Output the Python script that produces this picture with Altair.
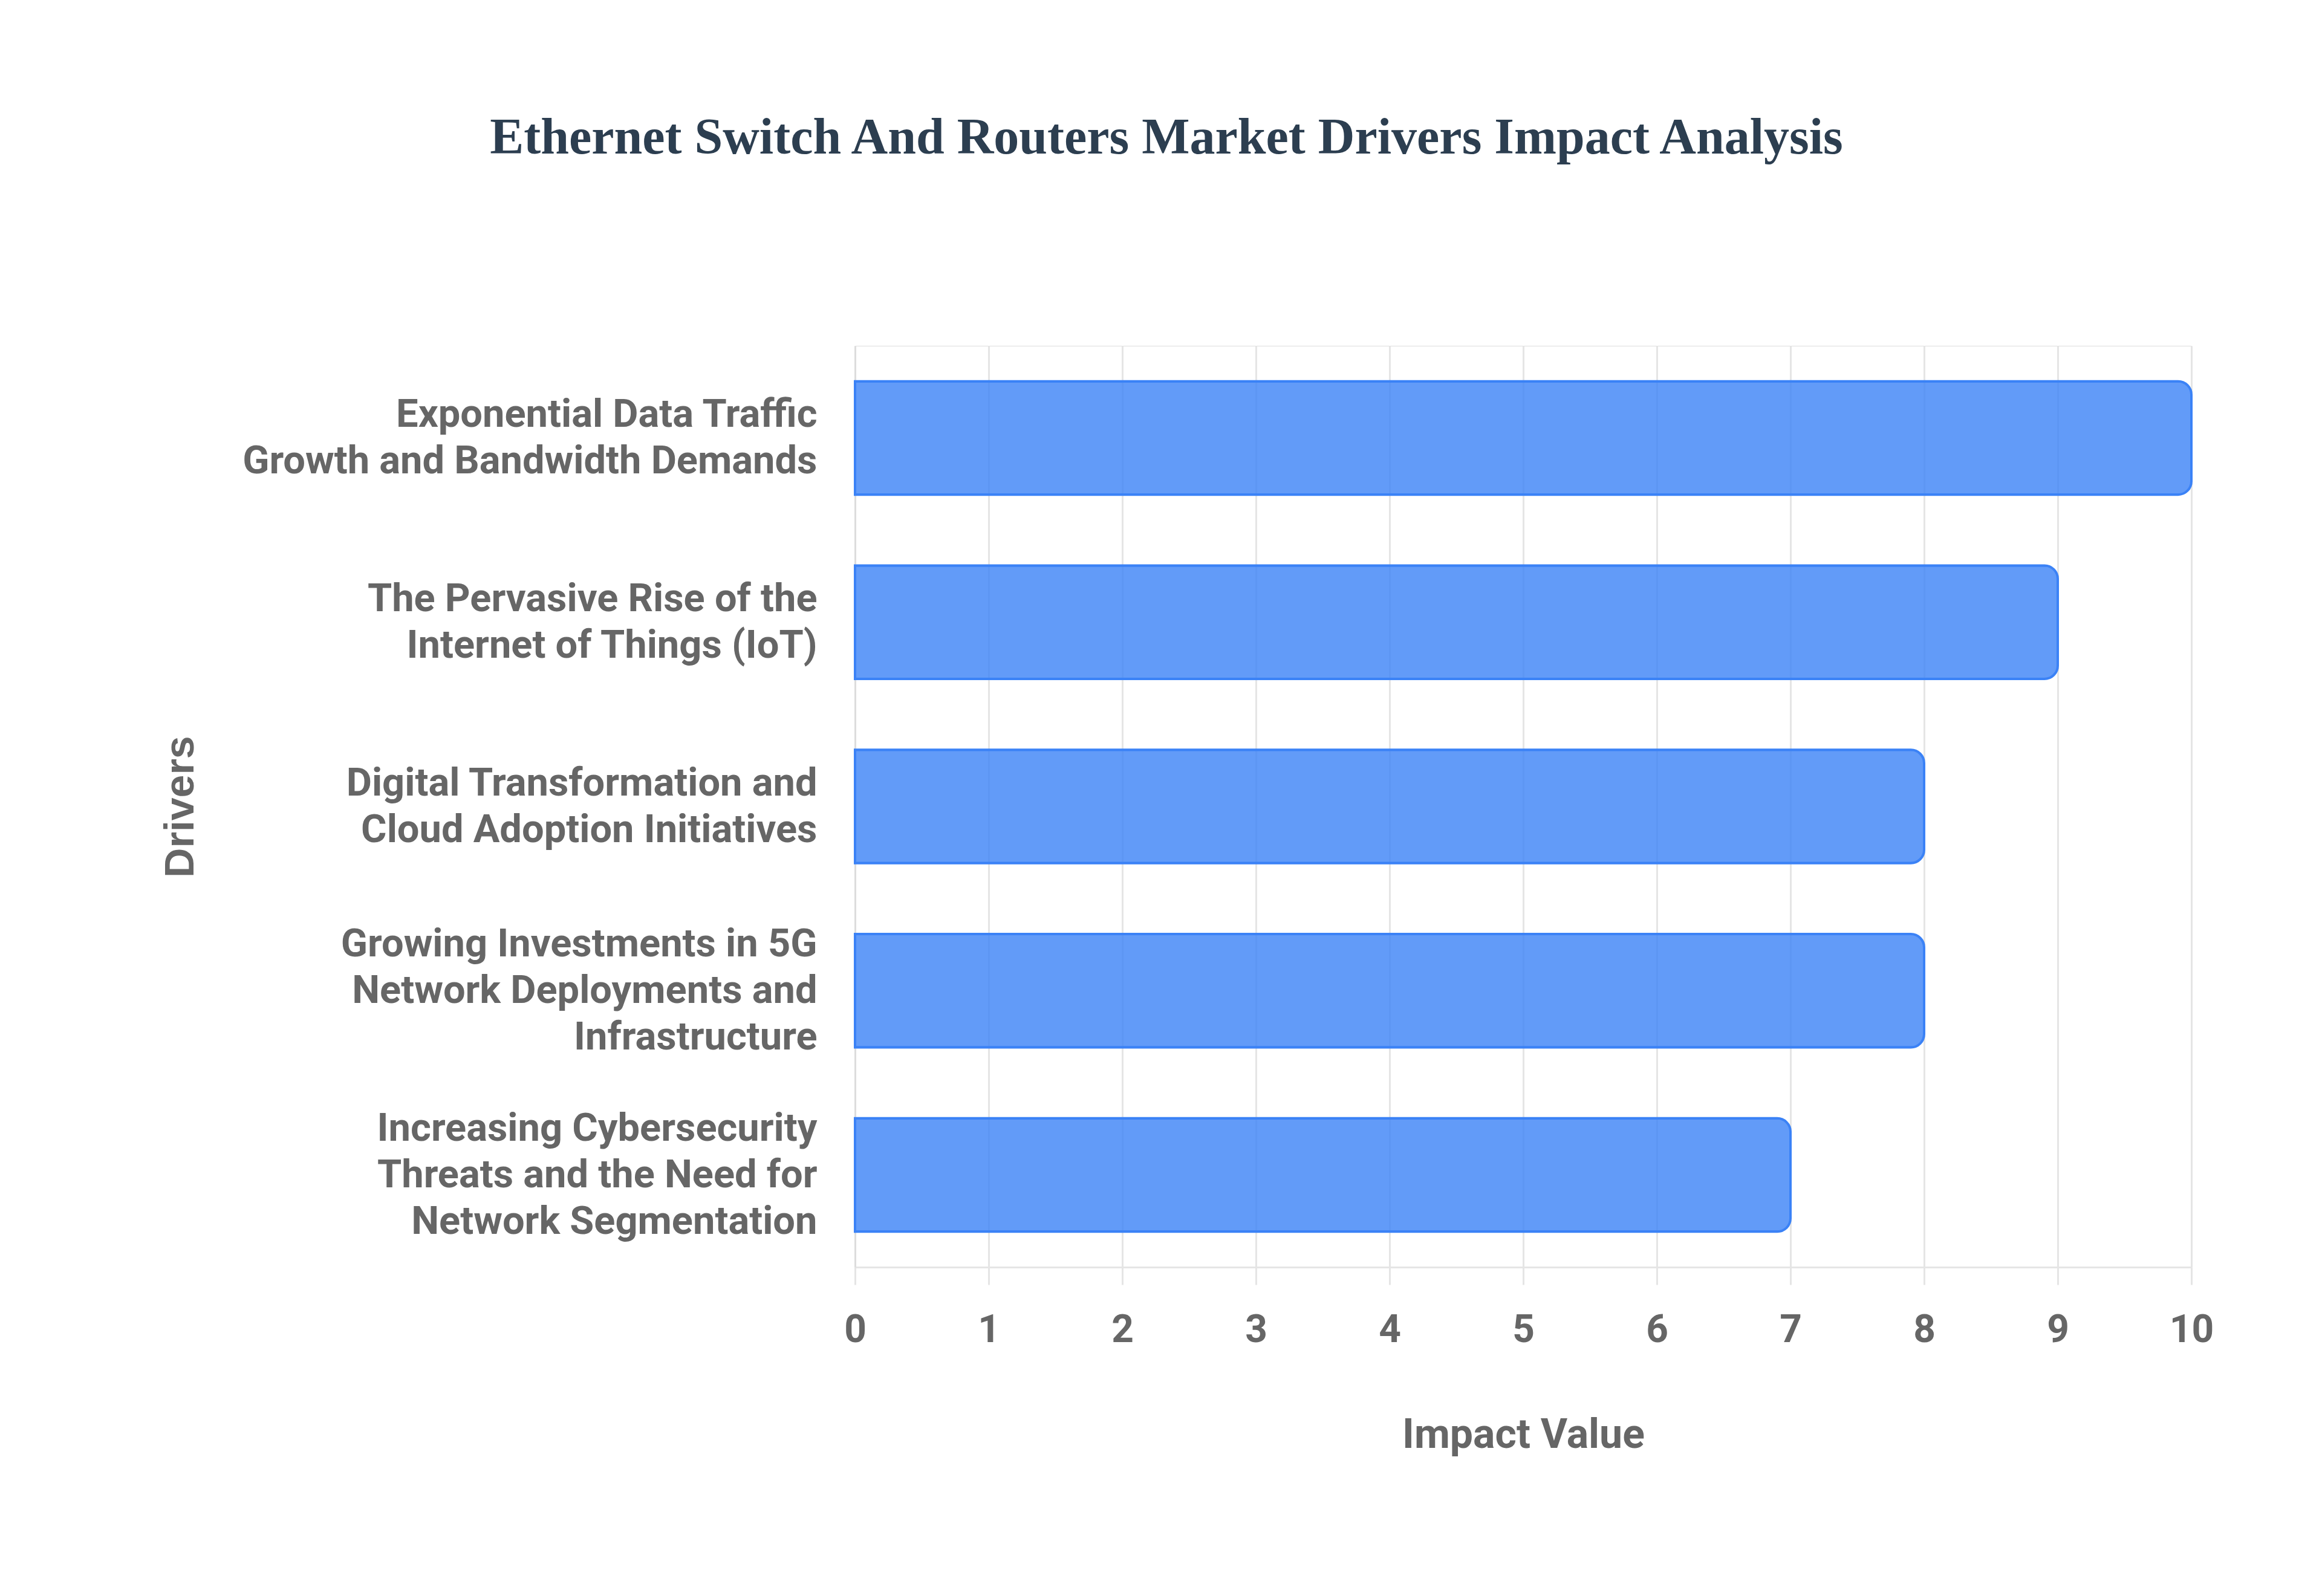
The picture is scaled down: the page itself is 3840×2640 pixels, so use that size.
import altair as alt
import pandas as pd

drivers = [
    "Exponential Data Traffic|Growth and Bandwidth Demands",
    "The Pervasive Rise of the|Internet of Things (IoT)",
    "Digital Transformation and|Cloud Adoption Initiatives",
    "Growing Investments in 5G|Network Deployments and|Infrastructure",
    "Increasing Cybersecurity|Threats and the Need for|Network Segmentation",
]
impact = [10, 9, 8, 8, 7]
x_ticks = [0, 1, 2, 3, 4, 5, 6, 7, 8, 9, 10]

df = pd.DataFrame({"driver": drivers, "impact": impact})

LABEL_FONT = "Roboto"
GRAY = "#666666"
GRID = "#e5e5e5"
LINE_H = 77

chart = (
    alt.Chart(df)
    .mark_bar(
        fill="rgba(59,130,246,0.8)",
        stroke="#3b82f6",
        strokeWidth=4,
        cornerRadiusEnd=22,
    )
    .encode(
        x=alt.X(
            "impact:Q",
            scale=alt.Scale(domain=[0, 10], nice=False),
            axis=alt.Axis(
                values=x_ticks,
                format="d",
                grid=True,
                gridColor=GRID,
                gridWidth=3,
                domain=True,
                domainColor=GRID,
                domainWidth=3,
                ticks=True,
                tickColor=GRID,
                tickWidth=3,
                tickSize=29,
                labelFont=LABEL_FONT,
                labelFontSize=64,
                labelFontWeight="bold",
                labelColor=GRAY,
                labelBaseline="alphabetic",
                labelPadding=94,
                labelFlush=False,
                title="Impact Value",
                titleFont=LABEL_FONT,
                titleFontSize=68,
                titleFontWeight="bold",
                titleColor=GRAY,
                titleBaseline="alphabetic",
                titleAlign="center",
                titleX=1105,
                titleY=298,
            ),
        ),
        y=alt.Y(
            "driver:N",
            sort=drivers,
            scale=alt.Scale(paddingInner=0.385, paddingOuter=0.1925),
            axis=alt.Axis(
                grid=False,
                ticks=False,
                domain=True,
                domainColor="#dddddd",
                domainWidth=3,
                labelExpr="split(datum.label, '|')",
                labelFont=LABEL_FONT,
                labelFontSize=65,
                labelFontWeight="bold",
                labelColor=GRAY,
                labelLineHeight=LINE_H,
                labelLimit=0,
                labelPadding=63,
                labelOffset={
                    "condition": {
                        "test": "length(split(datum.value, '|')) >= 3",
                        "value": -LINE_H,
                    },
                    "value": -LINE_H / 2,
                },
                title="Drivers",
                titleFont="Liberation Sans",
                titleFontSize=68,
                titleFontWeight="bold",
                titleColor=GRAY,
                titleAngle=270,
                titleAlign="center",
                titleBaseline="middle",
                titleX=-1115,
                titleY=762,
            ),
        ),
    )
    .properties(
        width=2210,
        height=1524,
        autosize=alt.AutoSizeParams(type="none"),
        padding={"left": 1406, "top": 564, "right": 150, "bottom": 450},
        title=alt.TitleParams(
            text="Ethernet Switch And Routers Market Drivers Impact Analysis",
            font="Liberation Serif",
            fontSize=84,
            fontWeight="bold",
            color="#2c3e50",
            anchor="middle",
            frame="group",
            dx=-590,
            offset=300,
        ),
    )
    .configure_view(stroke=None)
    .configure(background="white")
)

chart.save("out.html", embed_options={"renderer": "svg", "actions": False})
